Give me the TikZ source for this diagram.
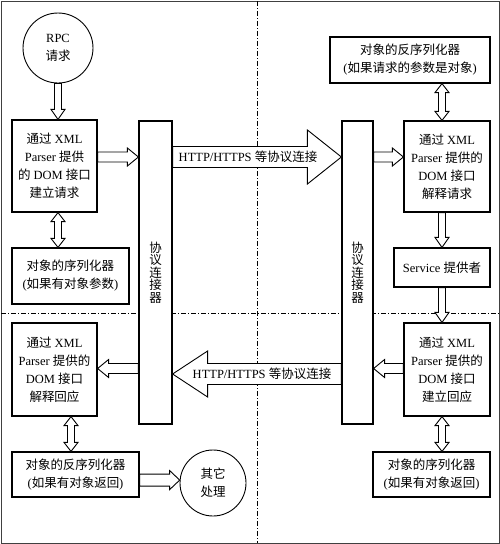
\documentclass[tikz,border=0pt]{standalone}
\usepackage{fontspec}
\setmainfont{Liberation Serif}
\newfontfamily\cjk{Noto Sans CJK SC}
\newcommand{\zh}[1]{{\cjk #1}}
\usetikzlibrary{calc}

\tikzset{
  box/.style={draw, line width=1.2pt, fill=white, align=center, inner sep=0pt},
  roundbox/.style={draw, circle, line width=0.9pt, fill=white, align=center, inner sep=0pt},
  barbox/.style={box, font={\cjk\fontsize{12.5}{12.5}\selectfont}},
  sepline/.style={line width=0.6pt, dash pattern=on 5pt off 2pt on 1pt off 2pt},
  % hollow block arrow: shaft half width, head half width, head length
  harrow/.style n args={3}{draw, fill=white, line width=0.9pt, to path={
    let \p1=(\tikztostart), \p2=(\tikztotarget),
        \n1={atan2(\y2-\y1,\x2-\x1)}, \n2={veclen(\x2-\x1,\y2-\y1)} in
    {[shift={(\p1)}, rotate=\n1]
      (0,#1) -- ({\n2-#3},#1) -- ({\n2-#3},#2) -- (\n2,0) -- ({\n2-#3},-#2)
      -- ({\n2-#3},-#1) -- (0,-#1) -- cycle}}},
  % hollow block arrow with two heads
  darrow/.style n args={3}{draw, fill=white, line width=0.9pt, to path={
    let \p1=(\tikztostart), \p2=(\tikztotarget),
        \n1={atan2(\y2-\y1,\x2-\x1)}, \n2={veclen(\x2-\x1,\y2-\y1)} in
    {[shift={(\p1)}, rotate=\n1]
      (0,0) -- (#3,#2) -- (#3,#1) -- ({\n2-#3},#1) -- ({\n2-#3},#2) -- (\n2,0)
      -- ({\n2-#3},-#2) -- ({\n2-#3},-#1) -- (#3,-#1) -- (#3,-#2) -- cycle}}}
}

\begin{document}
\begin{tikzpicture}[x=1pt, y=-1pt, every node/.style={font=\fontsize{12.5}{18}\selectfont}]
  \useasboundingbox (0,0) rectangle (500,544);
  % outer frame and the dash-dot separators
  \draw[line width=0.8pt, black!75] (1,1) rectangle (499,543);
  \draw[sepline] (257,1) -- (257,543);
  \draw[sepline] (1,313) -- (499,313);
  \coordinate (toprow) at (0,157);
  \coordinate (midbot) at (0,368.5);
  \coordinate (bigbot) at (0,374);
  \coordinate (lmid) at (71,0);

  % client side, request
  \node[roundbox, minimum size=70] (rpc) at (58,48) {RPC\\\zh{请求}};
  \node[box, minimum width=85, minimum height=92] (lreq) at (54.5,166)
    {\zh{通过} XML\\Parser \zh{提供}\\\zh{的} DOM \zh{接口}\\\zh{建立请求}};
  \node[box, minimum width=117, minimum height=56] (lser) at (70.5,276)
    {\zh{对象的序列化器}\\(\zh{如果有对象参数})};
  % client side, response
  \node[box, minimum width=85, minimum height=93] (lresp) at (54.5,369.5)
    {\zh{通过} XML\\Parser \zh{提供的}\\DOM \zh{接口}\\\zh{解释回应}};
  \node[box, minimum width=127, minimum height=45] (ldeser) at (75.5,474.5)
    {\zh{对象的反序列化器}\\(\zh{如果有对象返回})};
  \node[roundbox, minimum size=66] (other) at (213,483) {\zh{其它}\\\zh{处理}};

  % protocol connectors
  \node[barbox, minimum width=33, minimum height=303] (lbar) at (155.5,272.5) {协\\议\\连\\接\\器};
  \node[barbox, minimum width=31, minimum height=303] (rbar) at (357.5,272.5) {协\\议\\连\\接\\器};

  % server side
  \node[box, minimum width=160, minimum height=46] (rdeser) at (410,60)
    {\zh{对象的反序列化器}\\(\zh{如果请求的参数是对象})};
  \node[box, minimum width=86, minimum height=91] (rreq) at (447,166.5)
    {\zh{通过} XML\\Parser \zh{提供的}\\DOM \zh{接口}\\\zh{解释请求}};
  \node[box, minimum width=96, minimum height=39] (svc) at (442,267.5) {Service \zh{提供者}};
  \node[box, minimum width=86, minimum height=93] (rresp) at (447,369.5)
    {\zh{通过} XML\\Parser \zh{提供的}\\DOM \zh{接口}\\\zh{建立回应}};
  \node[box, minimum width=117, minimum height=45] (rser) at (431.5,474.5)
    {\zh{对象的序列化器}\\(\zh{如果有对象返回})};

  % request path
  \draw[harrow={3.5}{7}{10}] (rpc.south) to (rpc.south |- lreq.north);
  \draw[darrow={3.5}{7}{9}] (rpc.south |- lreq.south) to (rpc.south |- lser.north);
  \draw[harrow={5}{9}{11}] (lreq.east |- toprow) to (lbar.west |- toprow);
  \draw[harrow={10.5}{27}{34}] (lbar.east |- toprow) to (rbar.west |- toprow);
  \node (sendlabel) at (248,157) {HTTP/HTTPS \zh{等协议连接}};
  \draw[darrow={3.5}{7}{9}] (svc |- rdeser.south) to (svc |- rreq.north);
  \draw[harrow={5}{9}{11}] (rbar.east |- toprow) to (rreq.west |- toprow);
  \draw[harrow={3.5}{7}{10}] (svc |- rreq.south) to (svc.north);
  % response path
  \draw[harrow={3.5}{7}{10}] (svc.south) to (svc |- rresp.north);
  \draw[darrow={3.5}{7}{9}] (svc |- rresp.south) to (svc |- rser.north);
  \draw[harrow={5}{9}{11}] (rresp.west |- midbot) to (rbar.east |- midbot);
  \draw[harrow={10.5}{23}{35}] (rbar.west |- bigbot) to (lbar.east |- bigbot);
  \node (backlabel) at (262,374) {HTTP/HTTPS \zh{等协议连接}};
  \draw[harrow={5}{9}{11}] (lbar.west |- midbot) to (lresp.east |- midbot);
  \draw[darrow={3.5}{7}{9}] (lmid |- lresp.south) to (lmid |- ldeser.north);
  \draw[harrow={6}{9.5}{10}] (ldeser.east |- other.175) to (other.175);
\end{tikzpicture}
\end{document}
